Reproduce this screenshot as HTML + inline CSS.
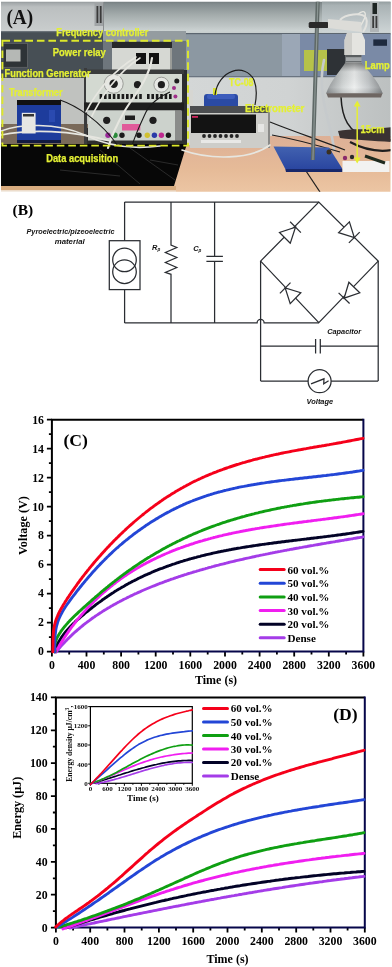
<!DOCTYPE html>
<html><head><meta charset="utf-8"><title>Figure</title>
<style>
html,body{margin:0;padding:0;background:#fff;}
body{width:392px;height:967px;overflow:hidden;position:relative;}
svg{position:absolute;left:0;top:0;display:block;}
</style></head><body>
<svg width="392" height="967" viewBox="0 0 392 967">
<rect width="392" height="967" fill="#fff"/>
<defs><linearGradient id="wallT" x1="0" y1="0" x2="0" y2="1"><stop offset="0" stop-color="#80878a"/><stop offset="0.1" stop-color="#a6abad"/><stop offset="0.2" stop-color="#bbbfc0"/><stop offset="0.8" stop-color="#c7cbcb"/><stop offset="1" stop-color="#d0d4d4"/></linearGradient><linearGradient id="wallR" x1="0" y1="0" x2="0" y2="1"><stop offset="0" stop-color="#6a7375"/><stop offset="0.12" stop-color="#848d8f"/><stop offset="0.45" stop-color="#a6aeae"/><stop offset="0.75" stop-color="#bfc6c6"/><stop offset="0.88" stop-color="#ccd3d3"/><stop offset="1" stop-color="#c2c9c9"/></linearGradient><linearGradient id="lampG" x1="0" y1="0" x2="1" y2="0"><stop offset="0" stop-color="#8a8e90"/><stop offset="0.3" stop-color="#d0d4d4"/><stop offset="0.5" stop-color="#eceeee"/><stop offset="0.75" stop-color="#c0c4c6"/><stop offset="1" stop-color="#7e8284"/></linearGradient><linearGradient id="lampV" x1="0" y1="0" x2="0" y2="1"><stop offset="0" stop-color="#000" stop-opacity="0.45"/><stop offset="0.3" stop-color="#000" stop-opacity="0.05"/><stop offset="0.8" stop-color="#fff" stop-opacity="0.1"/><stop offset="1" stop-color="#000" stop-opacity="0.1"/></linearGradient><linearGradient id="tableG" x1="0" y1="0" x2="0" y2="1"><stop offset="0" stop-color="#ddb096"/><stop offset="0.6" stop-color="#e6bb98"/><stop offset="1" stop-color="#ecc6a4"/></linearGradient><linearGradient id="baseG" x1="0" y1="0" x2="0" y2="1"><stop offset="0" stop-color="#4262b0"/><stop offset="1" stop-color="#2a46a0"/></linearGradient><linearGradient id="wallR2" x1="0" y1="0" x2="0" y2="1"><stop offset="0" stop-color="#8a9496"/><stop offset="0.15" stop-color="#a9b2b4"/><stop offset="0.6" stop-color="#bec6c8"/><stop offset="0.9" stop-color="#ccd3d4"/><stop offset="1" stop-color="#c4cbcc"/></linearGradient><linearGradient id="wallB" x1="0" y1="0" x2="1" y2="0"><stop offset="0" stop-color="#d4d7d7"/><stop offset="0.5" stop-color="#d0d3d3"/><stop offset="1" stop-color="#bcc0c0"/></linearGradient><clipPath id="photoClip"><rect x="1" y="1.8" width="389.5" height="190"/></clipPath></defs>
<g clip-path="url(#photoClip)">
<rect x="0" y="0" width="104" height="35" fill="url(#wallT)"/>
<rect x="104" y="0" width="288" height="35" fill="url(#wallR)"/>
<rect x="322" y="0" width="70" height="35" fill="url(#wallR2)"/>
<rect x="0" y="31" width="186" height="47" fill="#474f55"/>
<rect x="0" y="31" width="186" height="1.2" fill="#6a7278"/>
<rect x="103" y="31" width="83" height="41" fill="#6e767c"/>
<rect x="103" y="31" width="83" height="10" fill="#949ca0"/>
<rect x="186" y="33.5" width="206" height="44" fill="#8c98a2"/>
<rect x="186" y="33" width="206" height="1.2" fill="#5c6670"/>
<rect x="300" y="34" width="92" height="43" fill="#7a8aa6"/>
<rect x="282" y="34" width="18" height="43" fill="#9ba7b6"/>
<rect x="186" y="76" width="206" height="1.5" fill="#6a7480"/>
<rect x="0" y="78" width="186" height="50" fill="#c0c2bf"/>
<rect x="186" y="77.5" width="206" height="60" fill="url(#wallB)"/>
<rect x="150" y="136" width="242" height="57" fill="url(#tableG)"/>
<rect x="0" y="124" width="90" height="22" fill="#7a6a5a"/>
<rect x="84" y="128" width="102" height="18" fill="#2e2e2e"/>
<path d="M0,144H187L185,150L174,186H0Z" fill="#070707"/>
<g stroke="#2a2a2a" stroke-width="1" fill="none"><path d="M100,150L140,184M130,148L175,180M60,170L120,176M150,160L178,165"/></g>
<rect x="0" y="186" width="176" height="4.5" fill="#d8ac80"/>
<rect x="0" y="190.5" width="176" height="2" fill="#efe6da"/>
<rect x="3" y="43.4" width="24.5" height="24" fill="#2e3337" stroke="#5a5e62" stroke-width="1"/>
<rect x="6" y="49.5" width="14.5" height="12" fill="#b5b8b5"/>
<rect x="94.5" y="2" width="8.5" height="24" fill="#a0a4a6"/>
<rect x="96.5" y="6" width="1.8" height="17" fill="#3a3a3a"/><rect x="99.8" y="6" width="1.8" height="17" fill="#3a3a3a"/>
<rect x="103" y="2" width="1" height="29" fill="#8a8e90"/>
<rect x="370" y="2" width="9" height="30" fill="#b0b4b6"/>
<rect x="372.5" y="3" width="4.5" height="11" fill="#1e2422"/>
<rect x="372.3" y="16" width="1.8" height="12" fill="#3a3a3a"/><rect x="375.5" y="16" width="1.8" height="12" fill="#3a3a3a"/>
<rect x="112" y="42" width="60" height="28" fill="#d6d8d3"/>
<rect x="112" y="42" width="60" height="6" fill="#26282a"/>
<rect x="170" y="48" width="2" height="22" fill="#9a9c98"/>
<rect x="136" y="53" width="10" height="11" fill="#111"/><rect x="149" y="53" width="10" height="11" fill="#111"/>
<rect x="84" y="68" width="3" height="76" fill="#3a3b3c"/>
<rect x="181" y="70" width="6" height="74" fill="#2c2e30"/>
<rect x="84" y="69.5" width="100" height="4.5" fill="#3a3c3c"/>
<rect x="86" y="74" width="96" height="28.5" fill="#d3d9d1"/>
<circle cx="113.7" cy="83.8" r="9.5" fill="#e6e8e4" stroke="#8a8c88" stroke-width="0.8"/><circle cx="113.7" cy="83.8" r="4.2" fill="#1e1e1e"/>
<circle cx="137.5" cy="84.7" r="3.6" fill="#1e1e1e"/>
<circle cx="161.4" cy="84.7" r="7.5" fill="#e6e8e4" stroke="#8a8c88" stroke-width="0.8"/><circle cx="161.4" cy="84.7" r="3.6" fill="#1e1e1e"/>
<circle cx="176.8" cy="81" r="2.5" fill="#1e1e1e"/>
<rect x="99.6" y="94" width="2.6" height="5" fill="#1a1a1a"/>
<rect x="104.0" y="94" width="2.6" height="5" fill="#1a1a1a"/>
<rect x="108.4" y="94" width="2.6" height="5" fill="#1a1a1a"/>
<rect x="112.8" y="94" width="2.6" height="5" fill="#1a1a1a"/>
<rect x="117.2" y="94" width="2.6" height="5" fill="#1a1a1a"/>
<rect x="121.6" y="94" width="2.6" height="5" fill="#1a1a1a"/>
<rect x="126.0" y="94" width="2.6" height="5" fill="#1a1a1a"/>
<rect x="130.4" y="94" width="2.6" height="5" fill="#1a1a1a"/>
<rect x="134.8" y="94" width="2.6" height="5" fill="#1a1a1a"/>
<rect x="139.2" y="94" width="2.6" height="5" fill="#1a1a1a"/>
<rect x="147.0" y="94" width="2.6" height="5" fill="#1a1a1a"/>
<rect x="151.4" y="94" width="2.6" height="5" fill="#1a1a1a"/>
<rect x="155.8" y="94" width="2.6" height="5" fill="#1a1a1a"/>
<rect x="160.2" y="94" width="2.6" height="5" fill="#1a1a1a"/>
<rect x="164.6" y="94" width="2.6" height="5" fill="#1a1a1a"/>
<rect x="169.0" y="94" width="2.6" height="5" fill="#1a1a1a"/>
<circle cx="174" cy="88" r="2" fill="#a0308a"/><circle cx="175.4" cy="96.5" r="2" fill="#a0308a"/>
<rect x="84" y="102.5" width="100" height="8" fill="#1e1e1e"/>
<rect x="88" y="110.5" width="87" height="30" fill="#ccd2cc"/>
<rect x="175" y="110.5" width="7" height="30" fill="#8a8c8a"/>
<circle cx="106.7" cy="120.3" r="3.6" fill="#1e1e1e"/><circle cx="153" cy="120.3" r="3.6" fill="#1e1e1e"/>
<rect x="125" y="115.5" width="10" height="4.5" fill="#1e1e1e"/>
<rect x="122" y="124" width="18.3" height="6.5" fill="#e05a9a"/>
<circle cx="108" cy="135.2" r="2.7" fill="#9a2a9a"/>
<circle cx="115" cy="135.2" r="2.7" fill="#2a8a3a"/>
<circle cx="122" cy="135.2" r="2.7" fill="#1a1a1a"/>
<circle cx="139" cy="135.2" r="2.7" fill="#1a1a1a"/>
<circle cx="147.3" cy="135.2" r="2.7" fill="#d0c030"/>
<circle cx="154.4" cy="135.2" r="2.7" fill="#2a3aa8"/>
<circle cx="161.4" cy="135.2" r="2.7" fill="#c02a90"/>
<circle cx="168.4" cy="135.2" r="2.7" fill="#1a1a1a"/>
<rect x="17" y="100" width="44" height="5.5" fill="#111"/>
<rect x="17" y="105" width="44" height="36" fill="#1d3c9c"/>
<rect x="49" y="110" width="6" height="12" fill="#2a4ab0"/>
<rect x="21.8" y="112.8" width="13.8" height="20.7" fill="#e6e6e4"/>
<rect x="23" y="114" width="11" height="2.5" fill="#333"/>
<rect x="17" y="140" width="44" height="3" fill="#121a40"/>
<rect x="304" y="50" width="23" height="21" fill="#b6c24a"/>
<rect x="327" y="49" width="20" height="26" fill="#2e3236"/>
<rect x="373.3" y="39.4" width="13.7" height="6.4" fill="#1e2a3e"/>
<rect x="187" y="90" width="6" height="55" fill="#d6d6d2"/>
<rect x="204" y="94" width="34" height="16" rx="3" fill="#2a4aa4"/>
<rect x="207" y="94" width="28" height="5" rx="2" fill="#3c5cbc"/>
<rect x="213" y="88" width="4" height="7" fill="#d8e030"/>
<rect x="190" y="106" width="80" height="7.5" fill="#4c4e50"/>
<rect x="190" y="113" width="80" height="35" fill="#cdcdc9"/>
<rect x="191" y="114.5" width="65" height="18.5" fill="#131313"/>
<rect x="192" y="116" width="6" height="1.8" fill="#d02860"/>
<circle cx="204" cy="136" r="1.9" fill="#222"/>
<circle cx="209.5" cy="136" r="1.9" fill="#222"/>
<circle cx="215" cy="136" r="1.9" fill="#222"/>
<circle cx="220.5" cy="136" r="1.9" fill="#222"/>
<circle cx="226" cy="136" r="1.9" fill="#222"/>
<circle cx="231.5" cy="136" r="1.9" fill="#222"/>
<circle cx="237" cy="136" r="1.9" fill="#222"/>
<rect x="201" y="140" width="40" height="3" fill="#e8e8e6"/>
<rect x="258" y="124" width="6" height="8" fill="#e6e6e4"/>
<rect x="268" y="106" width="2" height="42" fill="#8a8a88"/>
<g fill="none" stroke="#e6e6e0" stroke-width="1.6" stroke-linecap="round"><path d="M1,131C20,124 55,122 85,135C105,145 130,150 160,146"/><path d="M1,135C30,129 70,130 110,141"/><path d="M90,120C100,98 118,72 140,58"/><path d="M86,112C96,92 114,70 136,57"/><path d="M152,58C149,80 132,98 124,112C116,126 111,138 108,148" stroke-width="2.1"/><path d="M182,150C210,160 250,160 270,145"/><path d="M324,60C316,95 332,125 334,150" stroke="#c6cacc" stroke-width="2.6"/><path d="M361,25C368,14 366,8 358,14" stroke-width="1.4"/></g>
<g fill="none" stroke="#1a1a1a" stroke-width="1.1"><path d="M60,100C75,105 100,120 118,146"/><path d="M170,92C160,96 150,104 146,112C140,125 135,135 132,146"/></g>
<g fill="none" stroke="#1e1e1e" stroke-width="1.2"><path d="M215,95C218,70 245,62 254,80C258,90 256,100 255,105"/><path d="M270,122C300,134 320,140 345,150"/><path d="M341,97C342,118 348,132 368,138L392,140" stroke-width="1.5"/><path d="M272,135C300,140 320,146 340,152"/><path d="M306,171L320,192"/><path d="M350,142C365,150 380,152 392,150" stroke-width="2.2"/></g>
<path d="M273.5,146.5L329,147.5L342.5,169L285.3,169Z" fill="url(#baseG)"/>
<path d="M285.3,169L342.5,169L342.5,172L286,172Z" fill="#18286a"/>
<path d="M338,131C350,128 370,130 392,127V142C375,141 355,140 340,138Z" fill="#3a3232"/>
<rect x="342.5" y="161" width="47" height="11" fill="#f2f2f0"/>
<circle cx="329" cy="152" r="2.5" fill="#3a3020"/><circle cx="345" cy="158" r="2.2" fill="#8a2a6a"/><circle cx="352" cy="157" r="2.2" fill="#2a2a2a"/>
<path d="M365,156L385,163" stroke="#1e2a1e" stroke-width="3"/>
<path d="M315.8,0L319.8,0L314.8,160L310.8,160Z" fill="#5e6866"/>
<path d="M317.3,0L318.5,0L313.5,160L312.3,160Z" fill="#8a9492"/>
<rect x="308.7" y="22" width="20" height="6" rx="1.5" fill="#2a2a2a"/>
<path d="M328,19L361,22L362,32L328,28Z" fill="#dcdcd8"/>
<path d="M340,20C345,14 362,12 366,18C368,22 366,28 363,32" fill="none" stroke="#e2e2de" stroke-width="2"/>
<path d="M347,33H362L365,40V55H344.5V40Z" fill="#e4e4e0"/>
<path d="M347,33H352V55H344.5V40Z" fill="#cfcfcb"/>
<rect x="345.5" y="55" width="16" height="8.5" fill="#a4a8aa"/>
<rect x="345.5" y="55" width="16" height="2.2" fill="#5a5e60"/>
<rect x="345.5" y="61" width="16" height="1.2" fill="#6a6e70"/>
<path d="M345.5,62.5C341,70 331,80 326,93.6H382.8C378,80 367,70 361.5,62.5Z" fill="url(#lampG)"/>
<path d="M345.5,62.5C341,70 331,80 326,93.6H382.8C378,80 367,70 361.5,62.5Z" fill="url(#lampV)"/>
<path d="M326.4,93.2H382.5L381,97.4H328Z" fill="#6e6662"/>
<rect x="2.4" y="40.8" width="185.6" height="104.8" fill="none" stroke="#dde82a" stroke-width="1.9" stroke-dasharray="7.6,3.9"/>
<path d="M357.2,104V160" stroke="#e6ee34" stroke-width="1.5"/>
<path d="M353.8,106.5L357.2,100.5L360.6,106.5Z" fill="#e6ee34"/><path d="M353.8,157.5L357.2,163.5L360.6,157.5Z" fill="#e6ee34"/>
<text x="6.4" y="24.3" font-family="'Liberation Serif', 'Times New Roman', serif" font-weight="bold" font-size="21.5" fill="#121212" textLength="26.8" lengthAdjust="spacingAndGlyphs">(A)</text>
<g font-family="'Liberation Sans', Arial, sans-serif" font-weight="bold" font-size="10" fill="#e4f034" stroke="#e4f034" stroke-width="0.25">
<text x="56.3" y="35.8" textLength="92" lengthAdjust="spacingAndGlyphs">Frequency controller</text>
<text x="52.8" y="55.7" textLength="53" lengthAdjust="spacingAndGlyphs">Power relay</text>
<text x="4.6" y="76.6" textLength="86" lengthAdjust="spacingAndGlyphs">Function Generator</text>
<text x="8.9" y="95.7" textLength="53.6" lengthAdjust="spacingAndGlyphs">Transformer</text>
<text x="46.2" y="161.6" textLength="72" lengthAdjust="spacingAndGlyphs">Data acquisition</text>
<text x="229" y="86.2" textLength="24.5" lengthAdjust="spacingAndGlyphs">TC-08</text>
<text x="245" y="112" textLength="59.4" lengthAdjust="spacingAndGlyphs">Electrometer</text>
<text x="364.8" y="69.3" textLength="25" lengthAdjust="spacingAndGlyphs">Lamp</text>
<text x="360.6" y="132.7" textLength="24" lengthAdjust="spacingAndGlyphs">15cm</text>
</g>
</g>
<g id="circuit" fill="none" stroke="#2a2d32" stroke-width="1.25" stroke-linecap="butt" stroke-linejoin="miter">
<path d="M124.6,202.1H318.8"/>
<path d="M124.6,202.1V240.7M124.6,289.6V322.9"/>
<rect x="109.3" y="240.7" width="30.7" height="48.9"/>
<circle cx="124.5" cy="259.9" r="11.8"/><circle cx="124.5" cy="271.7" r="11.8"/>
<path d="M171,202.1V245L176.8,247.5L165.4,252.5L176.8,257.5L165.4,262.5L176.8,267.5L165.4,272.5L171,274.3V322.9"/>
<path d="M214.6,202.1V256.4M214.6,261.4V322.9M206.4,256.4H222.9M206.4,261.4H222.9"/>
<path d="M124.6,322.9H257.1A3.5,3.5 0 0 1 264.1,322.9H318.8"/>
<path d="M260.6,261.1L318.8,202.1L378.2,261.1L318.8,322.6Z"/>
<path d="M260.6,261.1V381.1M378.2,261.1V381.1"/>
<path d="M260.6,346.1H315.6M320.3,346.1H378.2M315.6,339V353.4M320.3,339V353.4"/>
<path d="M260.6,381.1H308.1M331.1,381.1H378.2"/>
<circle cx="319.6" cy="381.2" r="11.5"/>
<path d="M311,383.9L324,378.8L323.7,383.9L328.6,380.8"/>
</g>
<g fill="none" stroke="#2a2d32" stroke-width="1.25">
<path d="M290.3,243.2L279.5,232.5L295.5,227.2Z" fill="#fff"/><path d="M300.9,232.6L290.1,221.8"/>
<path d="M338.6,232.6L349.4,221.8L354.3,237.5Z" fill="#fff"/><path d="M348.9,242.9L359.7,232.1"/>
<path d="M300.8,292.7L290.2,303.6L285.2,288.0Z" fill="#fff"/><path d="M290.5,282.6L279.9,293.4"/>
<path d="M348.9,282.2L359.8,292.8L344.1,298.2Z" fill="#fff"/><path d="M338.6,292.9L349.6,303.5"/>
</g>
<text x="12.5" y="214.9" font-family="'Liberation Serif', 'Times New Roman', serif" font-weight="bold" font-size="15.5" fill="#000">(B)</text>
<g font-family="'Liberation Sans', Arial, sans-serif" font-weight="bold" font-style="italic" fill="#111">
<text x="26.5" y="233.6" font-size="7.8" textLength="88" lengthAdjust="spacingAndGlyphs">Pyroelectric/pizeoelectric</text>
<text x="54.7" y="244.2" font-size="7.8" textLength="30" lengthAdjust="spacingAndGlyphs">material</text>
<text x="327.2" y="334" font-size="7.8" textLength="34" lengthAdjust="spacingAndGlyphs">Capacitor</text>
<text x="306.6" y="404.3" font-size="7.8" textLength="26.6" lengthAdjust="spacingAndGlyphs">Voltage</text>
<text x="152" y="249.5" font-size="7.5">R<tspan font-size="4.5" dy="1.5">p</tspan></text>
<text x="193.2" y="250.6" font-size="7.5">C<tspan font-size="4.5" dy="1.5">p</tspan></text>
</g>
<g id="plotC">
<path d="M46.9,651.6H51.9M48.9,637.1H51.9M46.9,622.6H51.9M48.9,608.1H51.9M46.9,593.6H51.9M48.9,579.1H51.9M46.9,564.6H51.9M48.9,550.1H51.9M46.9,535.6H51.9M48.9,521.2H51.9M46.9,506.7H51.9M48.9,492.2H51.9M46.9,477.7H51.9M48.9,463.2H51.9M46.9,448.7H51.9M48.9,434.2H51.9M46.9,419.7H51.9M51.9,651.6V656.6M69.2,651.6V654.6M86.5,651.6V656.6M103.8,651.6V654.6M121.1,651.6V656.6M138.4,651.6V654.6M155.7,651.6V656.6M173.0,651.6V654.6M190.3,651.6V656.6M207.7,651.6V654.6M225.0,651.6V656.6M242.3,651.6V654.6M259.6,651.6V656.6M276.9,651.6V654.6M294.2,651.6V656.6M311.5,651.6V654.6M328.8,651.6V656.6M346.1,651.6V654.6M363.4,651.6V656.6" stroke="#000" stroke-width="1.8" fill="none"/>
<path d="M51.9,651.6V419.7H363.4" stroke="#000" stroke-width="2" fill="none"/>
<path d="M50.9,651.6H363.4V418.7" stroke="#06064a" stroke-width="2" fill="none"/>
<g font-family="'Liberation Serif', 'Times New Roman', serif" font-weight="bold" font-size="11.8" fill="#000">
<text x="44" y="655.4" text-anchor="end">0</text>
<text x="44" y="626.4" text-anchor="end">2</text>
<text x="44" y="597.4" text-anchor="end">4</text>
<text x="44" y="568.4" text-anchor="end">6</text>
<text x="44" y="539.4" text-anchor="end">8</text>
<text x="44" y="510.5" text-anchor="end">10</text>
<text x="44" y="481.5" text-anchor="end">12</text>
<text x="44" y="452.5" text-anchor="end">14</text>
<text x="44" y="423.5" text-anchor="end">16</text>
<text x="51.9" y="669.1" text-anchor="middle">0</text>
<text x="86.5" y="669.1" text-anchor="middle">400</text>
<text x="121.1" y="669.1" text-anchor="middle">800</text>
<text x="155.7" y="669.1" text-anchor="middle">1200</text>
<text x="190.3" y="669.1" text-anchor="middle">1600</text>
<text x="225.0" y="669.1" text-anchor="middle">2000</text>
<text x="259.6" y="669.1" text-anchor="middle">2400</text>
<text x="294.2" y="669.1" text-anchor="middle">2800</text>
<text x="328.8" y="669.1" text-anchor="middle">3200</text>
<text x="363.4" y="669.1" text-anchor="middle">3600</text>
</g>
<text x="216" y="683.8" font-family="'Liberation Serif', 'Times New Roman', serif" font-weight="bold" font-size="12" text-anchor="middle">Time (s)</text>
<text transform="translate(27,525.5) rotate(-90)" font-family="'Liberation Serif', 'Times New Roman', serif" font-weight="bold" font-size="12.2" text-anchor="middle">Voltage (V)</text>
<text x="63.4" y="445.7" font-family="'Liberation Serif', 'Times New Roman', serif" font-weight="bold" font-size="17.6">(C)</text>
<path d="M260.2,569.6H284.2" stroke="#f5001a" stroke-width="3" stroke-linecap="round"/>
<text x="287.5" y="573.5" font-family="'Liberation Serif', 'Times New Roman', serif" font-weight="bold" font-size="11.1">60 vol.%</text>
<path d="M260.2,583.3H284.2" stroke="#2346d6" stroke-width="3" stroke-linecap="round"/>
<text x="287.5" y="587.2" font-family="'Liberation Serif', 'Times New Roman', serif" font-weight="bold" font-size="11.1">50 vol.%</text>
<path d="M260.2,596.9H284.2" stroke="#0f9f12" stroke-width="3" stroke-linecap="round"/>
<text x="287.5" y="600.8" font-family="'Liberation Serif', 'Times New Roman', serif" font-weight="bold" font-size="11.1">40 vol.%</text>
<path d="M260.2,610.6H284.2" stroke="#f01ef0" stroke-width="3" stroke-linecap="round"/>
<text x="287.5" y="614.5" font-family="'Liberation Serif', 'Times New Roman', serif" font-weight="bold" font-size="11.1">30 vol.%</text>
<path d="M260.2,624.2H284.2" stroke="#020226" stroke-width="3" stroke-linecap="round"/>
<text x="287.5" y="628.1" font-family="'Liberation Serif', 'Times New Roman', serif" font-weight="bold" font-size="11.1">20 vol.%</text>
<path d="M260.2,637.8H284.2" stroke="#a43ce8" stroke-width="3" stroke-linecap="round"/>
<text x="287.5" y="641.7" font-family="'Liberation Serif', 'Times New Roman', serif" font-weight="bold" font-size="11.1">Dense</text>
<g fill="none" stroke-linejoin="round" stroke-linecap="round">
<path d="M56.3,651.9 L57.1,650.9 L57.9,649.9 L58.7,648.9 L59.6,647.9 L60.4,646.9 L61.3,645.9 L62.2,644.9 L63.0,644.0 L63.9,643.0 L64.8,642.1 L65.7,641.1 L66.6,640.2 L67.5,639.3 L68.4,638.4 L69.3,637.5 L70.2,636.6 L71.2,635.7 L72.1,634.8 L73.0,633.9 L74.0,633.0 L74.9,632.2 L75.9,631.3 L76.9,630.5 L77.8,629.6 L78.8,628.8 L79.8,628.0 L80.8,627.1 L81.8,626.3 L82.8,625.5 L83.8,624.7 L84.8,623.9 L85.8,623.1 L86.8,622.4 L87.8,621.6 L88.9,620.8 L89.9,620.1 L90.9,619.3 L92.0,618.5 L93.0,617.8 L94.1,617.1 L95.1,616.3 L96.2,615.6 L97.3,614.9 L98.3,614.2 L99.4,613.5 L100.5,612.8 L101.6,612.1 L102.6,611.4 L103.7,610.7 L104.8,610.0 L105.9,609.4 L107.0,608.7 L108.1,608.0 L109.2,607.4 L110.4,606.7 L111.5,606.1 L112.6,605.5 L113.7,604.8 L114.8,604.2 L116.0,603.6 L117.1,602.9 L118.2,602.3 L119.4,601.7 L120.5,601.1 L121.7,600.5 L122.8,599.9 L124.0,599.3 L125.1,598.8 L126.3,598.2 L127.4,597.6 L128.6,597.0 L129.7,596.5 L130.9,595.9 L132.1,595.4 L133.2,594.8 L134.4,594.2 L135.6,593.7 L136.7,593.2 L137.9,592.6 L139.1,592.1 L140.3,591.6 L141.5,591.0 L142.6,590.5 L143.8,590.0 L145.0,589.5 L146.2,589.0 L147.4,588.5 L148.6,588.0 L149.8,587.5 L151.0,587.0 L152.2,586.5 L153.4,586.0 L154.6,585.6 L155.8,585.1 L157.0,584.6 L158.2,584.1 L159.4,583.7 L160.6,583.2 L161.8,582.8 L163.0,582.3 L164.2,581.9 L165.4,581.4 L166.7,581.0 L167.9,580.5 L169.1,580.1 L170.3,579.7 L171.5,579.2 L172.8,578.8 L174.0,578.4 L175.2,578.0 L176.4,577.5 L177.7,577.1 L178.9,576.7 L180.1,576.3 L181.3,575.9 L182.6,575.5 L183.8,575.1 L185.0,574.7 L186.3,574.3 L187.5,573.9 L188.7,573.5 L190.0,573.2 L191.2,572.8 L192.5,572.4 L193.7,572.0 L194.9,571.7 L196.2,571.3 L197.4,570.9 L198.7,570.6 L199.9,570.2 L201.1,569.8 L202.4,569.5 L203.6,569.1 L204.9,568.8 L206.1,568.4 L207.4,568.1 L208.6,567.7 L209.9,567.4 L211.1,567.1 L212.4,566.7 L213.6,566.4 L214.9,566.0 L216.1,565.7 L217.4,565.4 L218.6,565.1 L219.9,564.7 L221.1,564.4 L222.4,564.1 L223.6,563.8 L224.9,563.5 L226.1,563.2 L227.4,562.8 L228.6,562.5 L229.9,562.2 L231.1,561.9 L232.4,561.6 L233.6,561.3 L234.9,561.0 L236.2,560.7 L237.4,560.4 L238.7,560.1 L239.9,559.8 L241.2,559.6 L242.4,559.3 L243.7,559.0 L245.0,558.7 L246.2,558.4 L247.5,558.1 L248.7,557.9 L250.0,557.6 L251.2,557.3 L252.5,557.0 L253.8,556.8 L255.0,556.5 L256.3,556.2 L257.6,555.9 L258.8,555.7 L260.1,555.4 L261.3,555.1 L262.6,554.9 L263.9,554.6 L265.1,554.4 L266.4,554.1 L267.7,553.9 L268.9,553.6 L270.2,553.3 L271.5,553.1 L272.7,552.8 L274.0,552.6 L275.2,552.3 L276.5,552.1 L277.8,551.8 L279.0,551.6 L280.3,551.4 L281.6,551.1 L282.8,550.9 L284.1,550.6 L285.4,550.4 L286.6,550.2 L287.9,549.9 L289.2,549.7 L290.5,549.4 L291.7,549.2 L293.0,549.0 L294.3,548.7 L295.5,548.5 L296.8,548.3 L298.1,548.1 L299.3,547.8 L300.6,547.6 L301.9,547.4 L303.2,547.1 L304.4,546.9 L305.7,546.7 L307.0,546.5 L308.2,546.2 L309.5,546.0 L310.8,545.8 L312.0,545.6 L313.3,545.4 L314.6,545.1 L315.9,544.9 L317.1,544.7 L318.4,544.5 L319.7,544.3 L321.0,544.0 L322.2,543.8 L323.5,543.6 L324.8,543.4 L326.0,543.2 L327.3,542.9 L328.6,542.7 L329.9,542.5 L331.1,542.3 L332.4,542.1 L333.7,541.9 L335.0,541.7 L336.2,541.4 L337.5,541.2 L338.8,541.0 L340.1,540.8 L341.3,540.6 L342.6,540.4 L343.9,540.2 L345.2,539.9 L346.4,539.7 L347.7,539.5 L349.0,539.3 L350.3,539.1 L351.5,538.9 L352.8,538.7 L354.1,538.4 L355.4,538.2 L356.6,538.0 L357.9,537.8 L359.2,537.6 L360.5,537.4 L361.7,537.2 L363.0,536.9" stroke="#a43ce8" stroke-width="2.9"/>
<path d="M54.6,651.9 L54.9,650.6 L55.3,649.4 L55.8,648.1 L56.3,646.9 L56.8,645.7 L57.3,644.5 L57.9,643.3 L58.5,642.2 L59.2,641.1 L59.9,639.9 L60.6,638.8 L61.3,637.7 L62.0,636.7 L62.8,635.6 L63.6,634.5 L64.4,633.5 L65.2,632.5 L66.0,631.5 L66.9,630.5 L67.8,629.5 L68.7,628.5 L69.6,627.5 L70.5,626.5 L71.4,625.6 L72.3,624.6 L73.3,623.7 L74.3,622.8 L75.2,621.9 L76.2,620.9 L77.2,620.0 L78.2,619.1 L79.2,618.3 L80.2,617.4 L81.3,616.5 L82.3,615.6 L83.3,614.8 L84.3,613.9 L85.4,613.0 L86.4,612.2 L87.5,611.3 L88.5,610.5 L89.6,609.7 L90.6,608.8 L91.7,608.0 L92.7,607.2 L93.8,606.4 L94.8,605.6 L95.9,604.7 L97.0,603.9 L98.0,603.1 L99.1,602.4 L100.2,601.6 L101.3,600.8 L102.3,600.0 L103.4,599.2 L104.5,598.5 L105.6,597.7 L106.7,597.0 L107.8,596.2 L108.9,595.5 L110.0,594.7 L111.1,594.0 L112.2,593.3 L113.3,592.6 L114.4,591.8 L115.6,591.1 L116.7,590.4 L117.8,589.7 L118.9,589.1 L120.1,588.4 L121.2,587.7 L122.4,587.0 L123.5,586.4 L124.7,585.7 L125.8,585.0 L127.0,584.4 L128.1,583.8 L129.3,583.1 L130.5,582.5 L131.6,581.9 L132.8,581.3 L134.0,580.7 L135.2,580.1 L136.4,579.5 L137.5,578.9 L138.7,578.3 L139.9,577.7 L141.1,577.1 L142.3,576.6 L143.5,576.0 L144.7,575.4 L145.9,574.9 L147.2,574.4 L148.4,573.8 L149.6,573.3 L150.8,572.8 L152.0,572.2 L153.3,571.7 L154.5,571.2 L155.7,570.7 L157.0,570.2 L158.2,569.7 L159.4,569.2 L160.7,568.7 L161.9,568.3 L163.2,567.8 L164.4,567.3 L165.7,566.9 L166.9,566.4 L168.2,566.0 L169.4,565.5 L170.7,565.1 L171.9,564.6 L173.2,564.2 L174.5,563.8 L175.7,563.4 L177.0,562.9 L178.3,562.5 L179.5,562.1 L180.8,561.7 L182.1,561.3 L183.4,560.9 L184.6,560.5 L185.9,560.2 L187.2,559.8 L188.5,559.4 L189.8,559.0 L191.0,558.7 L192.3,558.3 L193.6,558.0 L194.9,557.6 L196.2,557.3 L197.5,556.9 L198.8,556.6 L200.1,556.3 L201.3,555.9 L202.6,555.6 L203.9,555.3 L205.2,555.0 L206.5,554.7 L207.8,554.4 L209.1,554.1 L210.4,553.8 L211.7,553.5 L213.0,553.2 L214.3,552.9 L215.6,552.6 L216.9,552.3 L218.2,552.0 L219.5,551.8 L220.8,551.5 L222.1,551.2 L223.4,551.0 L224.7,550.7 L226.0,550.5 L227.3,550.2 L228.6,550.0 L229.9,549.7 L231.2,549.5 L232.5,549.2 L233.8,549.0 L235.2,548.8 L236.5,548.5 L237.8,548.3 L239.1,548.1 L240.4,547.9 L241.7,547.6 L243.0,547.4 L244.3,547.2 L245.6,547.0 L247.0,546.8 L248.3,546.6 L249.6,546.4 L250.9,546.2 L252.2,546.0 L253.5,545.8 L254.8,545.6 L256.1,545.4 L257.5,545.2 L258.8,545.0 L260.1,544.8 L261.4,544.6 L262.7,544.4 L264.0,544.3 L265.4,544.1 L266.7,543.9 L268.0,543.7 L269.3,543.5 L270.6,543.4 L272.0,543.2 L273.3,543.0 L274.6,542.8 L275.9,542.7 L277.2,542.5 L278.6,542.3 L279.9,542.2 L281.2,542.0 L282.5,541.8 L283.8,541.7 L285.2,541.5 L286.5,541.3 L287.8,541.2 L289.1,541.0 L290.4,540.9 L291.8,540.7 L293.1,540.5 L294.4,540.4 L295.7,540.2 L297.0,540.1 L298.4,539.9 L299.7,539.8 L301.0,539.6 L302.3,539.4 L303.7,539.3 L305.0,539.1 L306.3,539.0 L307.6,538.8 L308.9,538.7 L310.3,538.5 L311.6,538.3 L312.9,538.2 L314.2,538.0 L315.6,537.9 L316.9,537.7 L318.2,537.5 L319.5,537.4 L320.8,537.2 L322.2,537.1 L323.5,536.9 L324.8,536.7 L326.1,536.6 L327.4,536.4 L328.8,536.2 L330.1,536.1 L331.4,535.9 L332.7,535.7 L334.0,535.6 L335.4,535.4 L336.7,535.2 L338.0,535.0 L339.3,534.9 L340.6,534.7 L342.0,534.5 L343.3,534.3 L344.6,534.2 L345.9,534.0 L347.2,533.8 L348.5,533.6 L349.9,533.4 L351.2,533.2 L352.5,533.0 L353.8,532.8 L355.1,532.6 L356.4,532.4 L357.7,532.2 L359.1,532.0 L360.4,531.8 L361.7,531.6 L363.0,531.4" stroke="#020226" stroke-width="2.9"/>
<path d="M55.8,651.9 L56.5,650.7 L57.1,649.5 L57.8,648.3 L58.5,647.2 L59.2,646.0 L59.9,644.8 L60.6,643.6 L61.3,642.5 L62.0,641.3 L62.8,640.1 L63.5,639.0 L64.2,637.8 L65.0,636.7 L65.7,635.6 L66.5,634.4 L67.3,633.3 L68.1,632.2 L68.8,631.1 L69.6,629.9 L70.4,628.8 L71.2,627.7 L72.0,626.6 L72.9,625.6 L73.7,624.5 L74.5,623.4 L75.4,622.3 L76.2,621.2 L77.0,620.2 L77.9,619.1 L78.8,618.1 L79.6,617.0 L80.5,616.0 L81.4,614.9 L82.3,613.9 L83.2,612.9 L84.1,611.9 L85.0,610.9 L85.9,609.9 L86.8,608.8 L87.7,607.9 L88.7,606.9 L89.6,605.9 L90.6,604.9 L91.5,603.9 L92.5,603.0 L93.4,602.0 L94.4,601.0 L95.4,600.1 L96.3,599.2 L97.3,598.2 L98.3,597.3 L99.3,596.4 L100.3,595.4 L101.3,594.5 L102.3,593.6 L103.3,592.7 L104.4,591.8 L105.4,591.0 L106.4,590.1 L107.5,589.2 L108.5,588.3 L109.5,587.5 L110.6,586.6 L111.7,585.8 L112.7,584.9 L113.8,584.1 L114.9,583.3 L115.9,582.4 L117.0,581.6 L118.1,580.8 L119.2,580.0 L120.3,579.2 L121.4,578.4 L122.5,577.7 L123.6,576.9 L124.7,576.1 L125.9,575.4 L127.0,574.6 L128.1,573.9 L129.3,573.1 L130.4,572.4 L131.5,571.7 L132.7,570.9 L133.8,570.2 L135.0,569.5 L136.2,568.8 L137.3,568.1 L138.5,567.4 L139.7,566.8 L140.8,566.1 L142.0,565.4 L143.2,564.8 L144.4,564.1 L145.6,563.5 L146.8,562.8 L148.0,562.2 L149.2,561.6 L150.4,561.0 L151.6,560.4 L152.8,559.8 L154.0,559.2 L155.2,558.6 L156.5,558.0 L157.7,557.4 L158.9,556.8 L160.2,556.3 L161.4,555.7 L162.6,555.1 L163.9,554.6 L165.1,554.0 L166.4,553.5 L167.6,553.0 L168.9,552.5 L170.1,551.9 L171.4,551.4 L172.6,550.9 L173.9,550.4 L175.2,549.9 L176.4,549.4 L177.7,548.9 L179.0,548.5 L180.3,548.0 L181.5,547.5 L182.8,547.1 L184.1,546.6 L185.4,546.2 L186.7,545.7 L188.0,545.3 L189.2,544.8 L190.5,544.4 L191.8,544.0 L193.1,543.6 L194.4,543.1 L195.7,542.7 L197.0,542.3 L198.3,541.9 L199.6,541.5 L200.9,541.1 L202.2,540.8 L203.5,540.4 L204.9,540.0 L206.2,539.6 L207.5,539.3 L208.8,538.9 L210.1,538.6 L211.4,538.2 L212.7,537.9 L214.0,537.5 L215.4,537.2 L216.7,536.8 L218.0,536.5 L219.3,536.2 L220.6,535.9 L222.0,535.6 L223.3,535.2 L224.6,534.9 L225.9,534.6 L227.3,534.3 L228.6,534.0 L229.9,533.7 L231.2,533.5 L232.6,533.2 L233.9,532.9 L235.2,532.6 L236.6,532.3 L237.9,532.1 L239.2,531.8 L240.6,531.5 L241.9,531.3 L243.2,531.0 L244.6,530.8 L245.9,530.5 L247.2,530.3 L248.6,530.0 L249.9,529.8 L251.3,529.5 L252.6,529.3 L253.9,529.1 L255.3,528.8 L256.6,528.6 L258.0,528.4 L259.3,528.2 L260.6,527.9 L262.0,527.7 L263.3,527.5 L264.7,527.3 L266.0,527.1 L267.4,526.9 L268.7,526.7 L270.1,526.5 L271.4,526.3 L272.7,526.1 L274.1,525.9 L275.4,525.7 L276.8,525.5 L278.1,525.3 L279.5,525.1 L280.8,524.9 L282.2,524.7 L283.5,524.5 L284.9,524.3 L286.2,524.1 L287.6,523.9 L288.9,523.8 L290.3,523.6 L291.6,523.4 L293.0,523.2 L294.3,523.0 L295.7,522.9 L297.0,522.7 L298.4,522.5 L299.7,522.3 L301.1,522.2 L302.4,522.0 L303.8,521.8 L305.1,521.6 L306.5,521.5 L307.8,521.3 L309.2,521.1 L310.5,521.0 L311.9,520.8 L313.2,520.6 L314.6,520.4 L315.9,520.3 L317.3,520.1 L318.6,519.9 L320.0,519.8 L321.3,519.6 L322.7,519.4 L324.0,519.2 L325.4,519.1 L326.7,518.9 L328.1,518.7 L329.4,518.5 L330.8,518.4 L332.1,518.2 L333.5,518.0 L334.8,517.8 L336.2,517.7 L337.5,517.5 L338.9,517.3 L340.2,517.1 L341.5,516.9 L342.9,516.8 L344.2,516.6 L345.6,516.4 L346.9,516.2 L348.3,516.0 L349.6,515.8 L350.9,515.6 L352.3,515.4 L353.6,515.2 L355.0,515.0 L356.3,514.8 L357.6,514.6 L359.0,514.4 L360.3,514.2 L361.7,514.0 L363.0,513.8" stroke="#f01ef0" stroke-width="2.9"/>
<path d="M55.2,651.9 L54.9,650.4 L54.7,648.9 L54.7,647.4 L54.7,646.0 L54.9,644.6 L55.1,643.3 L55.5,641.9 L55.9,640.7 L56.4,639.4 L56.9,638.1 L57.5,636.9 L58.2,635.7 L58.9,634.6 L59.6,633.4 L60.4,632.3 L61.1,631.1 L62.0,630.0 L62.8,628.9 L63.6,627.8 L64.5,626.7 L65.4,625.7 L66.3,624.6 L67.2,623.6 L68.1,622.5 L69.1,621.5 L70.0,620.5 L71.0,619.5 L72.0,618.5 L73.0,617.5 L74.0,616.5 L75.0,615.5 L76.0,614.6 L77.1,613.6 L78.1,612.6 L79.1,611.7 L80.2,610.7 L81.2,609.8 L82.3,608.8 L83.3,607.9 L84.4,606.9 L85.4,606.0 L86.5,605.0 L87.5,604.1 L88.6,603.2 L89.6,602.2 L90.7,601.3 L91.7,600.4 L92.8,599.4 L93.8,598.5 L94.9,597.6 L95.9,596.7 L97.0,595.8 L98.0,594.9 L99.1,594.0 L100.2,593.0 L101.2,592.1 L102.3,591.2 L103.4,590.3 L104.4,589.5 L105.5,588.6 L106.6,587.7 L107.7,586.8 L108.7,585.9 L109.8,585.0 L110.9,584.2 L112.0,583.3 L113.1,582.4 L114.2,581.6 L115.3,580.7 L116.4,579.9 L117.5,579.0 L118.6,578.2 L119.7,577.3 L120.8,576.5 L121.9,575.6 L123.0,574.8 L124.1,574.0 L125.3,573.2 L126.4,572.3 L127.5,571.5 L128.7,570.7 L129.8,569.9 L131.0,569.1 L132.1,568.3 L133.2,567.5 L134.4,566.7 L135.6,565.9 L136.7,565.2 L137.9,564.4 L139.0,563.6 L140.2,562.8 L141.4,562.1 L142.6,561.3 L143.7,560.6 L144.9,559.8 L146.1,559.1 L147.3,558.3 L148.5,557.6 L149.7,556.9 L150.9,556.1 L152.1,555.4 L153.3,554.7 L154.5,554.0 L155.7,553.3 L156.9,552.6 L158.1,551.9 L159.3,551.2 L160.6,550.5 L161.8,549.8 L163.0,549.1 L164.2,548.4 L165.5,547.8 L166.7,547.1 L167.9,546.4 L169.2,545.8 L170.4,545.1 L171.7,544.5 L172.9,543.8 L174.1,543.2 L175.4,542.6 L176.6,541.9 L177.9,541.3 L179.2,540.7 L180.4,540.1 L181.7,539.5 L182.9,538.9 L184.2,538.3 L185.5,537.7 L186.8,537.1 L188.0,536.5 L189.3,535.9 L190.6,535.4 L191.9,534.8 L193.1,534.2 L194.4,533.7 L195.7,533.1 L197.0,532.6 L198.3,532.0 L199.6,531.5 L200.9,531.0 L202.2,530.4 L203.5,529.9 L204.8,529.4 L206.1,528.9 L207.4,528.4 L208.7,527.9 L210.0,527.4 L211.3,526.9 L212.6,526.4 L213.9,526.0 L215.2,525.5 L216.5,525.0 L217.9,524.5 L219.2,524.1 L220.5,523.6 L221.8,523.2 L223.1,522.7 L224.5,522.3 L225.8,521.9 L227.1,521.4 L228.4,521.0 L229.8,520.6 L231.1,520.2 L232.4,519.8 L233.8,519.4 L235.1,519.0 L236.4,518.6 L237.8,518.2 L239.1,517.8 L240.5,517.4 L241.8,517.0 L243.2,516.6 L244.5,516.3 L245.8,515.9 L247.2,515.5 L248.5,515.2 L249.9,514.8 L251.2,514.5 L252.6,514.1 L253.9,513.8 L255.3,513.4 L256.7,513.1 L258.0,512.8 L259.4,512.4 L260.7,512.1 L262.1,511.8 L263.5,511.5 L264.8,511.2 L266.2,510.9 L267.5,510.6 L268.9,510.3 L270.3,510.0 L271.6,509.7 L273.0,509.4 L274.4,509.1 L275.8,508.8 L277.1,508.5 L278.5,508.2 L279.9,508.0 L281.2,507.7 L282.6,507.4 L284.0,507.2 L285.4,506.9 L286.7,506.7 L288.1,506.4 L289.5,506.2 L290.9,505.9 L292.3,505.7 L293.6,505.4 L295.0,505.2 L296.4,505.0 L297.8,504.7 L299.2,504.5 L300.5,504.3 L301.9,504.1 L303.3,503.9 L304.7,503.6 L306.1,503.4 L307.5,503.2 L308.8,503.0 L310.2,502.8 L311.6,502.6 L313.0,502.4 L314.4,502.2 L315.8,502.0 L317.2,501.8 L318.5,501.6 L319.9,501.4 L321.3,501.3 L322.7,501.1 L324.1,500.9 L325.5,500.7 L326.9,500.6 L328.3,500.4 L329.7,500.2 L331.0,500.1 L332.4,499.9 L333.8,499.7 L335.2,499.6 L336.6,499.4 L338.0,499.3 L339.4,499.1 L340.8,498.9 L342.2,498.8 L343.6,498.7 L344.9,498.5 L346.3,498.4 L347.7,498.2 L349.1,498.1 L350.5,497.9 L351.9,497.8 L353.3,497.7 L354.7,497.5 L356.1,497.4 L357.4,497.3 L358.8,497.2 L360.2,497.0 L361.6,496.9 L363.0,496.8" stroke="#0f9f12" stroke-width="2.9"/>
<path d="M54.6,651.9 L54.6,650.4 L54.6,648.9 L54.6,647.4 L54.7,645.8 L54.7,644.3 L54.7,642.8 L54.8,641.3 L54.8,639.8 L54.9,638.2 L55.0,636.7 L55.1,635.2 L55.3,633.7 L55.5,632.2 L55.7,630.7 L55.9,629.3 L56.2,627.8 L56.5,626.3 L56.9,624.9 L57.3,623.5 L57.7,622.1 L58.2,620.7 L58.7,619.3 L59.3,618.0 L59.9,616.6 L60.5,615.3 L61.2,614.0 L61.9,612.7 L62.6,611.4 L63.4,610.1 L64.2,608.8 L65.0,607.5 L65.8,606.3 L66.7,605.0 L67.5,603.8 L68.4,602.6 L69.3,601.3 L70.2,600.1 L71.1,598.9 L72.0,597.7 L72.9,596.5 L73.8,595.3 L74.8,594.1 L75.7,592.9 L76.6,591.7 L77.5,590.5 L78.5,589.3 L79.4,588.1 L80.3,587.0 L81.3,585.8 L82.2,584.6 L83.2,583.5 L84.1,582.3 L85.1,581.2 L86.0,580.0 L87.0,578.9 L88.0,577.7 L89.0,576.6 L89.9,575.5 L90.9,574.4 L91.9,573.2 L92.9,572.1 L93.9,571.0 L94.9,569.9 L95.9,568.8 L96.9,567.7 L97.9,566.6 L99.0,565.5 L100.0,564.4 L101.0,563.4 L102.1,562.3 L103.1,561.2 L104.2,560.2 L105.2,559.1 L106.3,558.1 L107.3,557.0 L108.4,556.0 L109.5,554.9 L110.6,553.9 L111.7,552.9 L112.8,551.8 L113.9,550.8 L115.0,549.8 L116.1,548.8 L117.2,547.8 L118.4,546.8 L119.5,545.8 L120.6,544.8 L121.8,543.9 L122.9,542.9 L124.1,541.9 L125.2,541.0 L126.4,540.0 L127.6,539.1 L128.8,538.1 L129.9,537.2 L131.1,536.3 L132.3,535.4 L133.5,534.4 L134.7,533.5 L135.9,532.6 L137.2,531.7 L138.4,530.8 L139.6,530.0 L140.8,529.1 L142.1,528.2 L143.3,527.4 L144.6,526.5 L145.8,525.6 L147.1,524.8 L148.3,524.0 L149.6,523.1 L150.8,522.3 L152.1,521.5 L153.4,520.7 L154.7,519.9 L156.0,519.1 L157.3,518.4 L158.6,517.6 L159.8,516.8 L161.2,516.1 L162.5,515.3 L163.8,514.6 L165.1,513.8 L166.4,513.1 L167.7,512.4 L169.1,511.7 L170.4,511.0 L171.7,510.3 L173.1,509.6 L174.4,508.9 L175.8,508.3 L177.1,507.6 L178.5,507.0 L179.8,506.3 L181.2,505.7 L182.5,505.1 L183.9,504.4 L185.3,503.8 L186.7,503.2 L188.0,502.7 L189.4,502.1 L190.8,501.5 L192.2,501.0 L193.6,500.4 L195.0,499.9 L196.4,499.3 L197.8,498.8 L199.2,498.3 L200.6,497.8 L202.0,497.3 L203.4,496.8 L204.8,496.3 L206.2,495.9 L207.6,495.4 L209.1,495.0 L210.5,494.5 L211.9,494.1 L213.3,493.7 L214.8,493.2 L216.2,492.8 L217.6,492.4 L219.1,492.0 L220.5,491.7 L222.0,491.3 L223.4,490.9 L224.9,490.5 L226.3,490.2 L227.8,489.8 L229.2,489.5 L230.7,489.1 L232.1,488.8 L233.6,488.5 L235.0,488.2 L236.5,487.8 L238.0,487.5 L239.4,487.2 L240.9,486.9 L242.4,486.6 L243.8,486.4 L245.3,486.1 L246.8,485.8 L248.3,485.5 L249.7,485.3 L251.2,485.0 L252.7,484.8 L254.2,484.5 L255.7,484.3 L257.2,484.0 L258.6,483.8 L260.1,483.5 L261.6,483.3 L263.1,483.1 L264.6,482.9 L266.1,482.6 L267.6,482.4 L269.1,482.2 L270.6,482.0 L272.0,481.8 L273.5,481.6 L275.0,481.4 L276.5,481.2 L278.0,481.0 L279.5,480.8 L281.0,480.6 L282.5,480.4 L284.0,480.3 L285.5,480.1 L287.0,479.9 L288.5,479.7 L290.0,479.5 L291.5,479.4 L293.0,479.2 L294.5,479.0 L296.0,478.8 L297.5,478.7 L299.0,478.5 L300.5,478.3 L302.0,478.2 L303.5,478.0 L305.0,477.8 L306.5,477.7 L308.0,477.5 L309.5,477.3 L311.0,477.2 L312.5,477.0 L314.0,476.8 L315.5,476.7 L317.0,476.5 L318.5,476.3 L320.0,476.2 L321.5,476.0 L323.0,475.8 L324.5,475.6 L326.0,475.5 L327.5,475.3 L329.0,475.1 L330.5,474.9 L332.0,474.7 L333.5,474.6 L334.9,474.4 L336.4,474.2 L337.9,474.0 L339.4,473.8 L340.9,473.6 L342.4,473.4 L343.8,473.2 L345.3,473.0 L346.8,472.8 L348.3,472.6 L349.8,472.4 L351.2,472.2 L352.7,472.0 L354.2,471.7 L355.7,471.5 L357.1,471.3 L358.6,471.1 L360.1,470.8 L361.5,470.6 L363.0,470.3" stroke="#2346d6" stroke-width="2.9"/>
<path d="M52.8,651.9 L52.9,650.4 L52.9,648.8 L52.9,647.2 L53.0,645.7 L53.0,644.1 L53.0,642.5 L53.0,640.9 L53.1,639.3 L53.1,637.7 L53.2,636.1 L53.3,634.5 L53.4,632.9 L53.5,631.3 L53.7,629.8 L53.9,628.2 L54.2,626.7 L54.5,625.2 L54.9,623.7 L55.3,622.2 L55.7,620.7 L56.2,619.2 L56.8,617.8 L57.4,616.4 L58.0,614.9 L58.6,613.5 L59.3,612.1 L60.0,610.8 L60.7,609.4 L61.5,608.0 L62.3,606.7 L63.1,605.3 L63.9,604.0 L64.7,602.7 L65.5,601.3 L66.4,600.0 L67.2,598.7 L68.1,597.4 L69.0,596.1 L69.8,594.8 L70.7,593.5 L71.6,592.2 L72.5,590.9 L73.4,589.6 L74.3,588.3 L75.2,587.0 L76.1,585.8 L77.0,584.5 L77.9,583.2 L78.9,582.0 L79.8,580.7 L80.7,579.4 L81.7,578.2 L82.6,576.9 L83.6,575.7 L84.5,574.5 L85.5,573.2 L86.5,572.0 L87.4,570.8 L88.4,569.6 L89.4,568.3 L90.4,567.1 L91.4,565.9 L92.4,564.7 L93.4,563.5 L94.4,562.3 L95.4,561.1 L96.4,559.9 L97.5,558.7 L98.5,557.6 L99.5,556.4 L100.6,555.2 L101.6,554.0 L102.7,552.9 L103.7,551.7 L104.8,550.6 L105.8,549.4 L106.9,548.3 L108.0,547.1 L109.1,546.0 L110.1,544.8 L111.2,543.7 L112.3,542.6 L113.4,541.4 L114.5,540.3 L115.6,539.2 L116.7,538.1 L117.9,537.0 L119.0,535.9 L120.1,534.8 L121.2,533.7 L122.4,532.6 L123.5,531.5 L124.7,530.5 L125.8,529.4 L127.0,528.3 L128.1,527.3 L129.3,526.2 L130.5,525.2 L131.6,524.1 L132.8,523.1 L134.0,522.0 L135.2,521.0 L136.4,520.0 L137.6,519.0 L138.8,518.0 L140.0,517.0 L141.2,516.0 L142.4,515.0 L143.7,514.0 L144.9,513.0 L146.1,512.0 L147.3,511.1 L148.6,510.1 L149.8,509.2 L151.1,508.2 L152.3,507.3 L153.6,506.3 L154.9,505.4 L156.1,504.5 L157.4,503.6 L158.7,502.7 L160.0,501.8 L161.3,500.9 L162.5,500.0 L163.8,499.1 L165.1,498.3 L166.4,497.4 L167.8,496.5 L169.1,495.7 L170.4,494.9 L171.7,494.0 L173.0,493.2 L174.4,492.4 L175.7,491.6 L177.1,490.8 L178.4,490.0 L179.8,489.2 L181.1,488.4 L182.5,487.7 L183.8,486.9 L185.2,486.2 L186.6,485.4 L188.0,484.7 L189.4,484.0 L190.7,483.2 L192.1,482.5 L193.5,481.8 L194.9,481.1 L196.3,480.5 L197.8,479.8 L199.2,479.1 L200.6,478.5 L202.0,477.8 L203.4,477.2 L204.9,476.5 L206.3,475.9 L207.7,475.3 L209.2,474.7 L210.6,474.1 L212.1,473.5 L213.5,472.9 L215.0,472.3 L216.4,471.8 L217.9,471.2 L219.4,470.7 L220.8,470.1 L222.3,469.6 L223.8,469.0 L225.3,468.5 L226.8,468.0 L228.2,467.5 L229.7,467.0 L231.2,466.5 L232.7,466.0 L234.2,465.5 L235.7,465.0 L237.2,464.5 L238.7,464.1 L240.2,463.6 L241.7,463.2 L243.2,462.7 L244.7,462.3 L246.2,461.8 L247.8,461.4 L249.3,461.0 L250.8,460.6 L252.3,460.2 L253.8,459.7 L255.3,459.3 L256.9,459.0 L258.4,458.6 L259.9,458.2 L261.4,457.8 L263.0,457.4 L264.5,457.1 L266.0,456.7 L267.6,456.3 L269.1,456.0 L270.6,455.6 L272.2,455.3 L273.7,454.9 L275.2,454.6 L276.8,454.3 L278.3,454.0 L279.8,453.6 L281.4,453.3 L282.9,453.0 L284.4,452.7 L286.0,452.4 L287.5,452.1 L289.0,451.8 L290.6,451.5 L292.1,451.2 L293.7,450.9 L295.2,450.6 L296.7,450.3 L298.3,450.0 L299.8,449.8 L301.3,449.5 L302.9,449.2 L304.4,448.9 L306.0,448.7 L307.5,448.4 L309.0,448.1 L310.6,447.8 L312.1,447.6 L313.7,447.3 L315.2,447.0 L316.7,446.8 L318.3,446.5 L319.8,446.2 L321.4,446.0 L322.9,445.7 L324.4,445.5 L326.0,445.2 L327.5,444.9 L329.1,444.7 L330.6,444.4 L332.2,444.1 L333.7,443.8 L335.2,443.6 L336.8,443.3 L338.3,443.0 L339.9,442.7 L341.4,442.5 L342.9,442.2 L344.5,441.9 L346.0,441.6 L347.6,441.3 L349.1,441.0 L350.7,440.7 L352.2,440.4 L353.7,440.1 L355.3,439.8 L356.8,439.5 L358.4,439.2 L359.9,438.9 L361.5,438.6 L363.0,438.3" stroke="#f5001a" stroke-width="2.9"/>
</g>
</g>
<g id="plotD">
<path d="M50.9,927.6H55.9M52.9,911.2H55.9M50.9,894.7H55.9M52.9,878.3H55.9M50.9,861.8H55.9M52.9,845.4H55.9M50.9,828.9H55.9M52.9,812.5H55.9M50.9,796.1H55.9M52.9,779.6H55.9M50.9,763.2H55.9M52.9,746.7H55.9M50.9,730.3H55.9M52.9,713.8H55.9M50.9,697.4H55.9M55.9,927.6V932.6M73.1,927.6V930.6M90.2,927.6V932.6M107.4,927.6V930.6M124.5,927.6V932.6M141.7,927.6V930.6M158.9,927.6V932.6M176.0,927.6V930.6M193.2,927.6V932.6M210.4,927.6V930.6M227.5,927.6V932.6M244.7,927.6V930.6M261.8,927.6V932.6M279.0,927.6V930.6M296.2,927.6V932.6M313.3,927.6V930.6M330.5,927.6V932.6M347.6,927.6V930.6M364.8,927.6V932.6" stroke="#000" stroke-width="1.8" fill="none"/>
<path d="M55.9,927.6V697.4H364.8" stroke="#000" stroke-width="2" fill="none"/>
<path d="M54.9,927.6H364.8V696.4" stroke="#06064a" stroke-width="2" fill="none"/>
<g font-family="'Liberation Serif', 'Times New Roman', serif" font-weight="bold" font-size="11.8" fill="#000">
<text x="47.6" y="931.5" text-anchor="end">0</text>
<text x="47.6" y="898.6" text-anchor="end">20</text>
<text x="47.6" y="865.7" text-anchor="end">40</text>
<text x="47.6" y="832.8" text-anchor="end">60</text>
<text x="47.6" y="800.0" text-anchor="end">80</text>
<text x="47.6" y="767.1" text-anchor="end">100</text>
<text x="47.6" y="734.2" text-anchor="end">120</text>
<text x="47.6" y="701.3" text-anchor="end">140</text>
<text x="55.9" y="945" text-anchor="middle">0</text>
<text x="90.2" y="945" text-anchor="middle">400</text>
<text x="124.5" y="945" text-anchor="middle">800</text>
<text x="158.9" y="945" text-anchor="middle">1200</text>
<text x="193.2" y="945" text-anchor="middle">1600</text>
<text x="227.5" y="945" text-anchor="middle">2000</text>
<text x="261.8" y="945" text-anchor="middle">2400</text>
<text x="296.2" y="945" text-anchor="middle">2800</text>
<text x="330.5" y="945" text-anchor="middle">3200</text>
<text x="364.8" y="945" text-anchor="middle">3600</text>
</g>
<text x="227.5" y="963" font-family="'Liberation Serif', 'Times New Roman', serif" font-weight="bold" font-size="12" text-anchor="middle">Time (s)</text>
<text transform="translate(21.3,807.8) rotate(-90)" font-family="'Liberation Serif', 'Times New Roman', serif" font-weight="bold" font-size="12.2" text-anchor="middle">Energy (μJ)</text>
<text x="333.2" y="719.8" font-family="'Liberation Serif', 'Times New Roman', serif" font-weight="bold" font-size="17.6">(D)</text>
<path d="M203.5,708.4H227.5" stroke="#f5001a" stroke-width="3" stroke-linecap="round"/>
<text x="230.8" y="712.3" font-family="'Liberation Serif', 'Times New Roman', serif" font-weight="bold" font-size="11.1">60 vol.%</text>
<path d="M203.5,722.1H227.5" stroke="#2346d6" stroke-width="3" stroke-linecap="round"/>
<text x="230.8" y="726.0" font-family="'Liberation Serif', 'Times New Roman', serif" font-weight="bold" font-size="11.1">50 vol.%</text>
<path d="M203.5,735.6H227.5" stroke="#0f9f12" stroke-width="3" stroke-linecap="round"/>
<text x="230.8" y="739.5" font-family="'Liberation Serif', 'Times New Roman', serif" font-weight="bold" font-size="11.1">40 vol.%</text>
<path d="M203.5,749.0H227.5" stroke="#f01ef0" stroke-width="3" stroke-linecap="round"/>
<text x="230.8" y="752.9" font-family="'Liberation Serif', 'Times New Roman', serif" font-weight="bold" font-size="11.1">30 vol.%</text>
<path d="M203.5,762.5H227.5" stroke="#020226" stroke-width="3" stroke-linecap="round"/>
<text x="230.8" y="766.4" font-family="'Liberation Serif', 'Times New Roman', serif" font-weight="bold" font-size="11.1">20 vol.%</text>
<path d="M203.5,775.9H227.5" stroke="#a43ce8" stroke-width="3" stroke-linecap="round"/>
<text x="230.8" y="779.8" font-family="'Liberation Serif', 'Times New Roman', serif" font-weight="bold" font-size="11.1">Dense</text>
<g fill="none" stroke-linejoin="round" stroke-linecap="round">
<path d="M70.0,928.0 L72.0,927.6 L74.0,927.2 L76.0,926.7 L78.0,926.3 L80.0,925.9 L82.0,925.5 L84.0,925.1 L86.0,924.6 L88.0,924.2 L90.0,923.8 L92.0,923.4 L94.0,923.0 L96.0,922.5 L98.0,922.1 L100.0,921.7 L102.0,921.3 L104.0,920.9 L106.0,920.5 L108.0,920.0 L110.0,919.6 L112.0,919.2 L114.0,918.8 L116.0,918.4 L118.0,918.0 L120.0,917.6 L122.0,917.2 L124.0,916.7 L126.0,916.3 L128.0,915.9 L130.0,915.5 L132.0,915.1 L134.0,914.7 L136.0,914.3 L138.0,913.9 L140.0,913.5 L142.0,913.1 L144.0,912.7 L146.0,912.3 L148.0,911.9 L150.0,911.5 L152.0,911.1 L154.0,910.7 L156.0,910.3 L158.0,909.9 L160.0,909.5 L162.0,909.1 L164.0,908.7 L166.0,908.3 L168.0,907.9 L170.0,907.5 L172.0,907.1 L174.0,906.7 L176.0,906.3 L178.0,906.0 L180.0,905.6 L182.0,905.2 L184.0,904.8 L186.0,904.4 L188.0,904.0 L190.0,903.6 L192.0,903.3 L194.0,902.9 L196.0,902.5 L198.0,902.1 L200.0,901.8 L202.0,901.4 L204.0,901.0 L206.0,900.6 L208.0,900.3 L210.0,899.9 L212.0,899.5 L214.0,899.2 L216.0,898.8 L218.0,898.4 L220.0,898.1 L222.0,897.7 L224.0,897.3 L226.0,897.0 L228.0,896.6 L230.0,896.3 L232.0,895.9 L234.0,895.6 L236.0,895.2 L238.0,894.9 L240.0,894.5 L242.0,894.2 L244.0,893.8 L246.0,893.5 L248.0,893.1 L250.0,892.8 L252.0,892.5 L254.0,892.1 L256.0,891.8 L258.0,891.4 L260.0,891.1 L262.0,890.8 L264.0,890.4 L266.0,890.1 L268.0,889.8 L270.0,889.5 L272.0,889.1 L274.0,888.8 L276.0,888.5 L278.0,888.2 L280.0,887.9 L282.0,887.6 L284.0,887.2 L286.0,886.9 L288.0,886.6 L290.0,886.3 L292.0,886.0 L294.0,885.7 L296.0,885.4 L298.0,885.1 L300.0,884.8 L302.0,884.5 L304.0,884.2 L306.0,883.9 L308.0,883.6 L310.0,883.3 L312.0,883.1 L314.0,882.8 L316.0,882.5 L318.0,882.2 L320.0,881.9 L322.0,881.7 L324.0,881.4 L326.0,881.1 L328.0,880.8 L330.0,880.6 L332.0,880.3 L334.0,880.0 L336.0,879.8 L338.0,879.5 L340.0,879.3 L342.0,879.0 L344.0,878.8 L346.0,878.5 L348.0,878.3 L350.0,878.0 L352.0,877.8 L354.0,877.5 L356.0,877.3 L358.0,877.1 L360.0,876.8 L362.0,876.6 L364.0,876.4" stroke="#a43ce8" stroke-width="2.9"/>
<path d="M66.0,927.8 L68.0,927.2 L70.0,926.5 L72.0,925.9 L74.0,925.2 L76.0,924.6 L78.0,923.9 L80.0,923.3 L82.0,922.7 L84.0,922.1 L86.0,921.4 L88.0,920.8 L90.0,920.2 L92.0,919.6 L94.0,919.0 L96.0,918.4 L98.0,917.8 L100.0,917.2 L102.0,916.6 L104.0,916.0 L106.0,915.5 L108.0,914.9 L110.0,914.3 L112.0,913.8 L114.0,913.2 L116.0,912.6 L118.0,912.1 L120.0,911.5 L122.0,911.0 L124.0,910.5 L126.0,909.9 L128.0,909.4 L130.0,908.9 L132.0,908.3 L134.0,907.8 L136.0,907.3 L138.0,906.8 L140.0,906.3 L142.0,905.8 L144.0,905.3 L146.0,904.8 L148.0,904.3 L150.0,903.8 L152.0,903.3 L154.0,902.8 L156.0,902.4 L158.0,901.9 L160.0,901.4 L162.0,900.9 L164.0,900.5 L166.0,900.0 L168.0,899.6 L170.0,899.1 L172.0,898.7 L174.0,898.2 L176.0,897.8 L178.0,897.4 L180.0,896.9 L182.0,896.5 L184.0,896.1 L186.0,895.7 L188.0,895.2 L190.0,894.8 L192.0,894.4 L194.0,894.0 L196.0,893.6 L198.0,893.2 L200.0,892.8 L202.0,892.4 L204.0,892.0 L206.0,891.7 L208.0,891.3 L210.0,890.9 L212.0,890.5 L214.0,890.2 L216.0,889.8 L218.0,889.4 L220.0,889.1 L222.0,888.7 L224.0,888.4 L226.0,888.0 L228.0,887.7 L230.0,887.3 L232.0,887.0 L234.0,886.6 L236.0,886.3 L238.0,886.0 L240.0,885.7 L242.0,885.3 L244.0,885.0 L246.0,884.7 L248.0,884.4 L250.0,884.1 L252.0,883.8 L254.0,883.5 L256.0,883.2 L258.0,882.9 L260.0,882.6 L262.0,882.3 L264.0,882.0 L266.0,881.7 L268.0,881.4 L270.0,881.2 L272.0,880.9 L274.0,880.6 L276.0,880.3 L278.0,880.1 L280.0,879.8 L282.0,879.6 L284.0,879.3 L286.0,879.0 L288.0,878.8 L290.0,878.5 L292.0,878.3 L294.0,878.1 L296.0,877.8 L298.0,877.6 L300.0,877.4 L302.0,877.1 L304.0,876.9 L306.0,876.7 L308.0,876.5 L310.0,876.2 L312.0,876.0 L314.0,875.8 L316.0,875.6 L318.0,875.4 L320.0,875.2 L322.0,875.0 L324.0,874.8 L326.0,874.6 L328.0,874.4 L330.0,874.2 L332.0,874.0 L334.0,873.8 L336.0,873.7 L338.0,873.5 L340.0,873.3 L342.0,873.1 L344.0,873.0 L346.0,872.8 L348.0,872.6 L350.0,872.5 L352.0,872.3 L354.0,872.1 L356.0,872.0 L358.0,871.8 L360.0,871.7 L362.0,871.5 L364.0,871.4" stroke="#020226" stroke-width="2.9"/>
<path d="M63.0,928.9 L65.0,928.2 L67.0,927.5 L69.0,926.8 L71.0,926.1 L73.0,925.3 L75.0,924.6 L77.0,923.9 L79.0,923.2 L81.0,922.5 L83.0,921.7 L85.0,921.0 L87.0,920.3 L89.0,919.5 L91.0,918.8 L93.0,918.0 L95.0,917.3 L97.0,916.6 L99.0,915.8 L101.0,915.1 L103.0,914.3 L105.0,913.6 L107.0,912.8 L109.0,912.1 L111.0,911.3 L113.0,910.6 L115.0,909.8 L117.0,909.1 L119.0,908.3 L121.0,907.6 L123.0,906.8 L125.0,906.1 L127.0,905.4 L129.0,904.6 L131.0,903.9 L133.0,903.1 L135.0,902.4 L137.0,901.7 L139.0,901.0 L141.0,900.2 L143.0,899.5 L145.0,898.8 L147.0,898.1 L149.0,897.4 L151.0,896.7 L153.0,896.0 L155.0,895.3 L157.0,894.6 L159.0,893.9 L161.0,893.2 L163.0,892.5 L165.0,891.9 L167.0,891.2 L169.0,890.6 L171.0,889.9 L173.0,889.3 L175.0,888.6 L177.0,888.0 L179.0,887.4 L181.0,886.8 L183.0,886.1 L185.0,885.5 L187.0,885.0 L189.0,884.4 L191.0,883.8 L193.0,883.2 L195.0,882.6 L197.0,882.1 L199.0,881.5 L201.0,881.0 L203.0,880.5 L205.0,879.9 L207.0,879.4 L209.0,878.9 L211.0,878.4 L213.0,877.9 L215.0,877.4 L217.0,876.9 L219.0,876.4 L221.0,875.9 L223.0,875.4 L225.0,875.0 L227.0,874.5 L229.0,874.0 L231.0,873.6 L233.0,873.1 L235.0,872.7 L237.0,872.3 L239.0,871.8 L241.0,871.4 L243.0,871.0 L245.0,870.6 L247.0,870.2 L249.0,869.8 L251.0,869.4 L253.0,869.0 L255.0,868.6 L257.0,868.2 L259.0,867.9 L261.0,867.5 L263.0,867.1 L265.0,866.8 L267.0,866.4 L269.0,866.0 L271.0,865.7 L273.0,865.4 L275.0,865.0 L277.0,864.7 L279.0,864.4 L281.0,864.0 L283.0,863.7 L285.0,863.4 L287.0,863.1 L289.0,862.8 L291.0,862.5 L293.0,862.2 L295.0,861.9 L297.0,861.6 L299.0,861.3 L301.0,861.0 L303.0,860.7 L305.0,860.4 L307.0,860.1 L309.0,859.9 L311.0,859.6 L313.0,859.3 L315.0,859.1 L317.0,858.8 L319.0,858.5 L321.0,858.3 L323.0,858.0 L325.0,857.8 L327.0,857.5 L329.0,857.3 L331.0,857.0 L333.0,856.8 L335.0,856.6 L337.0,856.3 L339.0,856.1 L341.0,855.9 L343.0,855.6 L345.0,855.4 L347.0,855.2 L349.0,855.0 L351.0,854.7 L353.0,854.5 L355.0,854.3 L357.0,854.1 L359.0,853.9 L361.0,853.7 L363.0,853.5 L364.0,853.4" stroke="#f01ef0" stroke-width="2.9"/>
<path d="M58.8,927.0 L60.8,926.5 L62.8,925.9 L64.8,925.3 L66.8,924.7 L68.8,924.1 L70.8,923.5 L72.8,922.8 L74.8,922.2 L76.8,921.6 L78.8,920.9 L80.8,920.3 L82.8,919.6 L84.8,918.9 L86.8,918.3 L88.8,917.6 L90.8,916.9 L92.8,916.2 L94.8,915.5 L96.8,914.8 L98.8,914.1 L100.8,913.4 L102.8,912.6 L104.8,911.9 L106.8,911.2 L108.8,910.4 L110.8,909.7 L112.8,908.9 L114.8,908.2 L116.8,907.4 L118.8,906.6 L120.8,905.8 L122.8,905.1 L124.8,904.3 L126.8,903.5 L128.8,902.7 L130.8,901.9 L132.8,901.0 L134.8,900.2 L136.8,899.4 L138.8,898.6 L140.8,897.7 L142.8,896.9 L144.8,896.0 L146.8,895.2 L148.8,894.3 L150.8,893.5 L152.8,892.6 L154.8,891.7 L156.8,890.8 L158.8,890.0 L160.8,889.1 L162.8,888.2 L164.8,887.3 L166.8,886.4 L168.8,885.5 L170.8,884.6 L172.8,883.7 L174.8,882.8 L176.8,881.9 L178.8,881.0 L180.8,880.1 L182.8,879.2 L184.8,878.2 L186.8,877.4 L188.8,876.5 L190.8,875.6 L192.8,874.7 L194.8,873.8 L196.8,872.9 L198.8,872.0 L200.8,871.2 L202.8,870.3 L204.8,869.5 L206.8,868.6 L208.8,867.8 L210.8,867.0 L212.8,866.2 L214.8,865.4 L216.8,864.6 L218.8,863.8 L220.8,863.0 L222.8,862.3 L224.8,861.6 L226.8,860.8 L228.8,860.1 L230.8,859.4 L232.8,858.8 L234.8,858.1 L236.8,857.5 L238.8,856.8 L240.8,856.2 L242.8,855.6 L244.8,855.0 L246.8,854.5 L248.8,853.9 L250.8,853.4 L252.8,852.8 L254.8,852.3 L256.8,851.8 L258.8,851.3 L260.8,850.8 L262.8,850.3 L264.8,849.9 L266.8,849.4 L268.8,849.0 L270.8,848.5 L272.8,848.1 L274.8,847.7 L276.8,847.3 L278.8,846.9 L280.8,846.5 L282.8,846.1 L284.8,845.7 L286.8,845.3 L288.8,845.0 L290.8,844.6 L292.8,844.3 L294.8,843.9 L296.8,843.6 L298.8,843.2 L300.8,842.9 L302.8,842.6 L304.8,842.2 L306.8,841.9 L308.8,841.6 L310.8,841.3 L312.8,841.0 L314.8,840.7 L316.8,840.3 L318.8,840.0 L320.8,839.7 L322.8,839.4 L324.8,839.1 L326.8,838.8 L328.8,838.5 L330.8,838.2 L332.8,837.9 L334.8,837.6 L336.8,837.3 L338.8,836.9 L340.8,836.6 L342.8,836.3 L344.8,836.0 L346.8,835.7 L348.8,835.3 L350.8,835.0 L352.8,834.7 L354.8,834.3 L356.8,834.0 L358.8,833.6 L360.8,833.3 L362.8,832.9 L364.0,832.7" stroke="#0f9f12" stroke-width="2.9"/>
<path d="M56.9,927.0 L58.9,925.8 L60.9,924.6 L62.9,923.4 L64.9,922.1 L66.9,920.9 L68.9,919.6 L70.9,918.4 L72.9,917.1 L74.9,915.8 L76.9,914.5 L78.9,913.2 L80.9,911.9 L82.9,910.5 L84.9,909.2 L86.9,907.9 L88.9,906.5 L90.9,905.2 L92.9,903.8 L94.9,902.4 L96.9,901.1 L98.9,899.7 L100.9,898.3 L102.9,896.9 L104.9,895.5 L106.9,894.1 L108.9,892.7 L110.9,891.2 L112.9,889.8 L114.9,888.4 L116.9,887.0 L118.9,885.5 L120.9,884.1 L122.9,882.7 L124.9,881.3 L126.9,879.8 L128.9,878.4 L130.9,877.0 L132.9,875.6 L134.9,874.2 L136.9,872.8 L138.9,871.4 L140.9,870.1 L142.9,868.7 L144.9,867.4 L146.9,866.0 L148.9,864.7 L150.9,863.4 L152.9,862.1 L154.9,860.8 L156.9,859.6 L158.9,858.4 L160.9,857.1 L162.9,855.9 L164.9,854.8 L166.9,853.6 L168.9,852.5 L170.9,851.4 L172.9,850.3 L174.9,849.2 L176.9,848.1 L178.9,847.1 L180.9,846.1 L182.9,845.0 L184.9,844.1 L186.9,843.1 L188.9,842.1 L190.9,841.2 L192.9,840.3 L194.9,839.4 L196.9,838.5 L198.9,837.6 L200.9,836.8 L202.9,835.9 L204.9,835.1 L206.9,834.3 L208.9,833.5 L210.9,832.7 L212.9,831.9 L214.9,831.2 L216.9,830.4 L218.9,829.7 L220.9,829.0 L222.9,828.3 L224.9,827.6 L226.9,827.0 L228.9,826.3 L230.9,825.7 L232.9,825.0 L234.9,824.4 L236.9,823.8 L238.9,823.2 L240.9,822.6 L242.9,822.0 L244.9,821.5 L246.9,820.9 L248.9,820.4 L250.9,819.9 L252.9,819.3 L254.9,818.8 L256.9,818.3 L258.9,817.8 L260.9,817.3 L262.9,816.9 L264.9,816.4 L266.9,816.0 L268.9,815.5 L270.9,815.1 L272.9,814.6 L274.9,814.2 L276.9,813.8 L278.9,813.4 L280.9,813.0 L282.9,812.6 L284.9,812.2 L286.9,811.8 L288.9,811.4 L290.9,811.1 L292.9,810.7 L294.9,810.3 L296.9,810.0 L298.9,809.6 L300.9,809.3 L302.9,808.9 L304.9,808.6 L306.9,808.3 L308.9,807.9 L310.9,807.6 L312.9,807.3 L314.9,807.0 L316.9,806.7 L318.9,806.4 L320.9,806.0 L322.9,805.7 L324.9,805.4 L326.9,805.1 L328.9,804.8 L330.9,804.5 L332.9,804.2 L334.9,803.9 L336.9,803.6 L338.9,803.3 L340.9,803.0 L342.9,802.8 L344.9,802.5 L346.9,802.2 L348.9,801.9 L350.9,801.6 L352.9,801.3 L354.9,801.0 L356.9,800.7 L358.9,800.4 L360.9,800.1 L362.9,799.8 L364.0,799.6" stroke="#2346d6" stroke-width="2.9"/>
<path d="M55.8,926.9 L57.8,925.0 L59.8,923.3 L61.8,921.6 L63.8,920.1 L65.8,918.5 L67.8,917.1 L69.8,915.6 L71.8,914.3 L73.8,912.9 L75.8,911.5 L77.8,910.2 L79.8,908.8 L81.8,907.5 L83.8,906.1 L85.8,904.7 L87.8,903.3 L89.8,901.8 L91.8,900.4 L93.8,898.9 L95.8,897.4 L97.8,895.9 L99.8,894.3 L101.8,892.7 L103.8,891.1 L105.8,889.5 L107.8,887.9 L109.8,886.2 L111.8,884.5 L113.8,882.8 L115.8,881.1 L117.8,879.3 L119.8,877.5 L121.8,875.8 L123.8,874.0 L125.8,872.2 L127.8,870.4 L129.8,868.6 L131.8,866.8 L133.8,865.0 L135.8,863.2 L137.8,861.4 L139.8,859.6 L141.8,857.8 L143.8,856.0 L145.8,854.2 L147.8,852.5 L149.8,850.7 L151.8,849.0 L153.8,847.3 L155.8,845.6 L157.8,844.0 L159.8,842.4 L161.8,840.8 L163.8,839.2 L165.8,837.6 L167.8,836.1 L169.8,834.6 L171.8,833.1 L173.8,831.6 L175.8,830.2 L177.8,828.8 L179.8,827.4 L181.8,826.0 L183.8,824.6 L185.8,823.2 L187.8,821.9 L189.8,820.5 L191.8,819.2 L193.8,817.9 L195.8,816.6 L197.8,815.2 L199.8,813.9 L201.8,812.7 L203.8,811.4 L205.8,810.1 L207.8,808.8 L209.8,807.5 L211.8,806.3 L213.8,805.0 L215.8,803.8 L217.8,802.6 L219.8,801.4 L221.8,800.2 L223.8,799.0 L225.8,797.9 L227.8,796.7 L229.8,795.6 L231.8,794.5 L233.8,793.4 L235.8,792.4 L237.8,791.4 L239.8,790.4 L241.8,789.4 L243.8,788.4 L245.8,787.5 L247.8,786.5 L249.8,785.6 L251.8,784.7 L253.8,783.8 L255.8,783.0 L257.8,782.1 L259.8,781.3 L261.8,780.5 L263.8,779.7 L265.8,778.9 L267.8,778.1 L269.8,777.4 L271.8,776.6 L273.8,775.9 L275.8,775.2 L277.8,774.5 L279.8,773.8 L281.8,773.1 L283.8,772.5 L285.8,771.8 L287.8,771.2 L289.8,770.5 L291.8,769.9 L293.8,769.3 L295.8,768.7 L297.8,768.1 L299.8,767.5 L301.8,766.9 L303.8,766.3 L305.8,765.7 L307.8,765.2 L309.8,764.6 L311.8,764.1 L313.8,763.5 L315.8,763.0 L317.8,762.4 L319.8,761.9 L321.8,761.4 L323.8,760.8 L325.8,760.3 L327.8,759.8 L329.8,759.3 L331.8,758.8 L333.8,758.2 L335.8,757.7 L337.8,757.2 L339.8,756.7 L341.8,756.2 L343.8,755.6 L345.8,755.1 L347.8,754.6 L349.8,754.1 L351.8,753.5 L353.8,753.0 L355.8,752.5 L357.8,751.9 L359.8,751.4 L361.8,750.8 L363.8,750.3 L364.0,750.2" stroke="#f5001a" stroke-width="2.9"/>
</g>
<path d="M88.2,783.3H90.4M88.2,764.1H90.4M88.2,745.0H90.4M88.2,725.8H90.4M88.2,706.6H90.4M90.4,783.3V785.8M98.9,783.3V784.8M107.4,783.3V785.8M115.9,783.3V784.8M124.4,783.3V785.8M132.9,783.3V784.8M141.4,783.3V785.8M149.8,783.3V784.8M158.3,783.3V785.8M166.8,783.3V784.8M175.3,783.3V785.8M183.8,783.3V784.8M192.3,783.3V785.8" stroke="#000" stroke-width="1" fill="none"/>
<rect x="90.4" y="706.6" width="101.9" height="76.7" fill="none" stroke="#000" stroke-width="1.2"/>
<g font-family="'Liberation Serif', 'Times New Roman', serif" font-weight="bold" font-size="7" fill="#111">
<text x="87.8" y="785.7" text-anchor="end">0</text>
<text x="87.8" y="766.5" text-anchor="end">400</text>
<text x="87.8" y="747.4" text-anchor="end">800</text>
<text x="87.8" y="728.2" text-anchor="end">1200</text>
<text x="87.8" y="709.0" text-anchor="end">1600</text>
<text x="90.4" y="791.4" text-anchor="middle">0</text>
<text x="107.4" y="791.4" text-anchor="middle">600</text>
<text x="124.4" y="791.4" text-anchor="middle">1200</text>
<text x="141.4" y="791.4" text-anchor="middle">1800</text>
<text x="158.3" y="791.4" text-anchor="middle">2400</text>
<text x="175.3" y="791.4" text-anchor="middle">3000</text>
<text x="192.3" y="791.4" text-anchor="middle">3600</text>
</g>
<text x="142.9" y="801.2" font-family="'Liberation Serif', 'Times New Roman', serif" font-weight="bold" font-size="9" text-anchor="middle">Time (s)</text>
<text transform="translate(71.6,781.8) rotate(-90)" font-family="'Liberation Serif', 'Times New Roman', serif" font-weight="bold" font-size="7.7" fill="#111">Energy density μJ/cm<tspan font-size="5.6" dy="-3">3</tspan><tspan dy="3">,</tspan></text>
<g fill="none" stroke-linejoin="round" stroke-linecap="round">
<path d="M96.0,783.6 L98.0,783.3 L100.0,782.9 L102.0,782.5 L104.0,782.1 L106.0,781.6 L108.0,781.1 L110.0,780.6 L112.0,780.1 L114.0,779.6 L116.0,779.0 L118.0,778.5 L120.0,777.9 L122.0,777.3 L124.0,776.7 L126.0,776.1 L128.0,775.5 L130.0,774.9 L132.0,774.2 L134.0,773.6 L136.0,773.0 L138.0,772.4 L140.0,771.8 L142.0,771.1 L144.0,770.5 L146.0,769.9 L148.0,769.4 L150.0,768.8 L152.0,768.2 L154.0,767.7 L156.0,767.2 L158.0,766.7 L160.0,766.2 L162.0,765.7 L164.0,765.3 L166.0,764.8 L168.0,764.4 L170.0,764.1 L172.0,763.8 L174.0,763.4 L176.0,763.2 L178.0,762.9 L180.0,762.8 L182.0,762.6 L184.0,762.5 L186.0,762.4 L188.0,762.4 L190.0,762.4 L192.0,762.4 L192.2,762.4" stroke="#a43ce8" stroke-width="1.7"/>
<path d="M90.4,783.9 L92.4,783.3 L94.4,782.7 L96.4,782.2 L98.4,781.6 L100.4,781.0 L102.4,780.4 L104.4,779.7 L106.4,779.1 L108.4,778.5 L110.4,777.9 L112.4,777.2 L114.4,776.6 L116.4,776.0 L118.4,775.3 L120.4,774.7 L122.4,774.0 L124.4,773.4 L126.4,772.8 L128.4,772.2 L130.4,771.5 L132.4,770.9 L134.4,770.3 L136.4,769.7 L138.4,769.1 L140.4,768.6 L142.4,768.0 L144.4,767.5 L146.4,766.9 L148.4,766.4 L150.4,765.9 L152.4,765.4 L154.4,764.9 L156.4,764.5 L158.4,764.0 L160.4,763.6 L162.4,763.2 L164.4,762.8 L166.4,762.5 L168.4,762.2 L170.4,761.9 L172.4,761.6 L174.4,761.3 L176.4,761.1 L178.4,760.9 L180.4,760.8 L182.4,760.6 L184.4,760.5 L186.4,760.5 L188.4,760.4 L190.4,760.4 L192.2,760.5" stroke="#020226" stroke-width="1.7"/>
<path d="M90.4,784.1 L92.4,783.3 L94.4,782.6 L96.4,781.8 L98.4,781.0 L100.4,780.2 L102.4,779.3 L104.4,778.5 L106.4,777.6 L108.4,776.8 L110.4,775.9 L112.4,775.0 L114.4,774.1 L116.4,773.3 L118.4,772.4 L120.4,771.5 L122.4,770.6 L124.4,769.8 L126.4,768.9 L128.4,768.1 L130.4,767.2 L132.4,766.4 L134.4,765.6 L136.4,764.8 L138.4,764.0 L140.4,763.3 L142.4,762.6 L144.4,761.9 L146.4,761.2 L148.4,760.6 L150.4,759.9 L152.4,759.4 L154.4,758.8 L156.4,758.3 L158.4,757.8 L160.4,757.3 L162.4,756.8 L164.4,756.4 L166.4,756.0 L168.4,755.7 L170.4,755.3 L172.4,755.0 L174.4,754.7 L176.4,754.4 L178.4,754.1 L180.4,753.9 L182.4,753.7 L184.4,753.5 L186.4,753.3 L188.4,753.2 L190.4,753.1 L192.2,753.0" stroke="#f01ef0" stroke-width="1.7"/>
<path d="M90.4,783.4 L92.4,782.8 L94.4,782.2 L96.4,781.5 L98.4,780.8 L100.4,780.0 L102.4,779.1 L104.4,778.3 L106.4,777.3 L108.4,776.4 L110.4,775.4 L112.4,774.4 L114.4,773.4 L116.4,772.4 L118.4,771.3 L120.4,770.2 L122.4,769.1 L124.4,768.0 L126.4,766.9 L128.4,765.8 L130.4,764.7 L132.4,763.6 L134.4,762.5 L136.4,761.4 L138.4,760.4 L140.4,759.3 L142.4,758.3 L144.4,757.3 L146.4,756.3 L148.4,755.4 L150.4,754.5 L152.4,753.6 L154.4,752.7 L156.4,751.9 L158.4,751.1 L160.4,750.4 L162.4,749.7 L164.4,749.0 L166.4,748.4 L168.4,747.8 L170.4,747.3 L172.4,746.8 L174.4,746.3 L176.4,746.0 L178.4,745.6 L180.4,745.4 L182.4,745.2 L184.4,745.0 L186.4,744.9 L188.4,744.9 L190.4,745.0 L192.2,745.1" stroke="#0f9f12" stroke-width="1.7"/>
<path d="M90.4,784.3 L92.4,782.6 L94.4,780.9 L96.4,779.2 L98.4,777.4 L100.4,775.6 L102.4,773.9 L104.4,772.1 L106.4,770.3 L108.4,768.5 L110.4,766.7 L112.4,764.9 L114.4,763.1 L116.4,761.4 L118.4,759.6 L120.4,757.9 L122.4,756.3 L124.4,754.6 L126.4,753.0 L128.4,751.5 L130.4,750.0 L132.4,748.6 L134.4,747.2 L136.4,745.9 L138.4,744.6 L140.4,743.5 L142.4,742.4 L144.4,741.4 L146.4,740.4 L148.4,739.5 L150.4,738.7 L152.4,738.0 L154.4,737.3 L156.4,736.7 L158.4,736.1 L160.4,735.5 L162.4,735.1 L164.4,734.6 L166.4,734.2 L168.4,733.8 L170.4,733.5 L172.4,733.2 L174.4,732.9 L176.4,732.6 L178.4,732.3 L180.4,732.1 L182.4,731.9 L184.4,731.7 L186.4,731.4 L188.4,731.2 L190.4,731.0 L192.2,730.8" stroke="#2346d6" stroke-width="1.7"/>
<path d="M90.4,784.5 L92.4,782.5 L94.4,780.5 L96.4,778.4 L98.4,776.3 L100.4,774.2 L102.4,772.0 L104.4,769.8 L106.4,767.6 L108.4,765.3 L110.4,763.1 L112.4,760.9 L114.4,758.6 L116.4,756.4 L118.4,754.1 L120.4,751.9 L122.4,749.8 L124.4,747.6 L126.4,745.5 L128.4,743.5 L130.4,741.5 L132.4,739.5 L134.4,737.6 L136.4,735.8 L138.4,734.0 L140.4,732.4 L142.4,730.8 L144.4,729.3 L146.4,727.9 L148.4,726.5 L150.4,725.2 L152.4,724.0 L154.4,722.9 L156.4,721.8 L158.4,720.8 L160.4,719.8 L162.4,718.9 L164.4,718.0 L166.4,717.2 L168.4,716.5 L170.4,715.7 L172.4,715.1 L174.4,714.4 L176.4,713.8 L178.4,713.2 L180.4,712.7 L182.4,712.2 L184.4,711.7 L186.4,711.2 L188.4,710.8 L190.4,710.3 L192.2,709.9" stroke="#f5001a" stroke-width="1.7"/>
</g>
</g>
</svg>
</body></html>
